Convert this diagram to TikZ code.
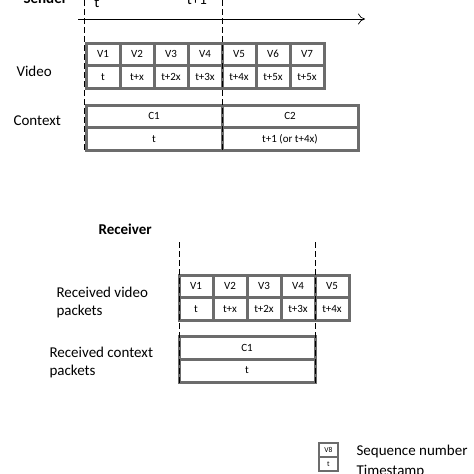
\documentclass[tikz,border=0pt]{standalone}
\usepackage{fontspec}
\setmainfont{Carlito}
\usetikzlibrary{arrows.meta,positioning}

\begin{document}
\begin{tikzpicture}[x=1pt, y=-1pt,
    cell/.style={draw=gray!85!black, line width=3pt, outer sep=0pt, inner sep=0pt, minimum width=34pt, minimum height=22.5pt, font=\fontsize{11}{12}\selectfont},
    wide/.style={cell, minimum width=136pt},
    key/.style={draw=gray!85!black, line width=1.8pt, outer sep=0pt, inner sep=0pt, minimum width=19pt, minimum height=14pt, font=\fontsize{7.5}{9}\selectfont},
    lbl/.style={font=\fontsize{15}{18}\selectfont},
    timeline/.style={line width=0.7pt, dash pattern=on 6pt off 3pt}]

\useasboundingbox (0,0) rectangle (474,474);
\clip (0,0) rectangle (474,474);

% sender
\node[lbl, font=\fontsize{15}{18}\selectfont\bfseries, anchor=base west] (sender) at (20,3) {Sender};
\node[lbl, anchor=base] (tick0) at (97,7) {t};
\node[lbl, anchor=base] (tick1) at (197,4) {t+1};
\coordinate (ax0) at (78,19);
\coordinate (ax1) at (365,19);
\draw[-{To[length=7pt,width=11pt]}, line width=0.7pt] (ax0) -- (ax1);

\node[cell, anchor=north west] (v1) at (86,43) {V1};
\node[cell, right=0pt of v1] (v2) {V2};
\node[cell, right=0pt of v2] (v3) {V3};
\node[cell, right=0pt of v3] (v4) {V4};
\node[cell, right=0pt of v4] (v5) {V5};
\node[cell, right=0pt of v5] (v6) {V6};
\node[cell, right=0pt of v6] (v7) {V7};
\node[cell, below=0pt of v1] (t1) {t};
\node[cell, below=0pt of v2] (t2) {t+x};
\node[cell, below=0pt of v3] (t3) {t+2x};
\node[cell, below=0pt of v4] (t4) {t+3x};
\node[cell, below=0pt of v5] (t5) {t+4x};
\node[cell, below=0pt of v6] (t6) {t+5x};
\node[cell, below=0pt of v7] (t7) {t+5x};

\node[wide, anchor=north west] (c1) at (86,105) {C1};
\node[wide, right=0pt of c1] (c2) {C2};
\node[wide, below=0pt of c1] (ct1) {t};
\node[wide, below=0pt of c2] (ct2) {t+1 (or t+4x)};

\node[lbl, anchor=west] (video) at (13,71) {Video};
\node[lbl, anchor=west] (context) at (10,121) {Context};

\coordinate (s0top) at (84,0);
\coordinate (s0bot) at (84,150);
\coordinate (s1top) at (222,0);
\coordinate (s1bot) at (222,150);
\draw[timeline] (s0top) -- (s0bot);
\draw[timeline] (s1top) -- (s1bot);

% receiver
\node[lbl, font=\fontsize{15}{18}\selectfont\bfseries, anchor=west] (receiver) at (95,229) {Receiver};

\node[cell, anchor=north west] (r1) at (179,275) {V1};
\node[cell, right=0pt of r1] (r2) {V2};
\node[cell, right=0pt of r2] (r3) {V3};
\node[cell, right=0pt of r3] (r4) {V4};
\node[cell, right=0pt of r4] (r5) {V5};
\node[cell, below=0pt of r1] (rt1) {t};
\node[cell, below=0pt of r2] (rt2) {t+x};
\node[cell, below=0pt of r3] (rt3) {t+2x};
\node[cell, below=0pt of r4] (rt4) {t+3x};
\node[cell, below=0pt of r5] (rt5) {t+4x};

\node[wide, anchor=north west, minimum height=23pt] (rc1) at (179,336) {C1};
\node[wide, below=0pt of rc1, minimum height=23pt] (rct1) {t};

\node[lbl, anchor=west, align=left] (rvideo) at (53,302) {Received video\\packets};
\node[lbl, anchor=west, align=left] (rcontext) at (46,362) {Received context\\packets};

\coordinate (r0top) at (179,242);
\coordinate (r0bot) at (179,383);
\coordinate (r1top) at (315,242);
\coordinate (r1bot) at (315,383);
\draw[timeline] (r0top) -- (r0bot);
\draw[timeline] (r1top) -- (r1bot);

% legend
\node[key, anchor=north west] (kseq) at (319,443) {V8};
\node[key, below=0pt of kseq] (kts) {t};
\node[lbl, anchor=west] (lseq) at (353,451) {Sequence number};
\node[lbl, anchor=west] (lts) at (353,472) {Timestamp};
\end{tikzpicture}
\end{document}
